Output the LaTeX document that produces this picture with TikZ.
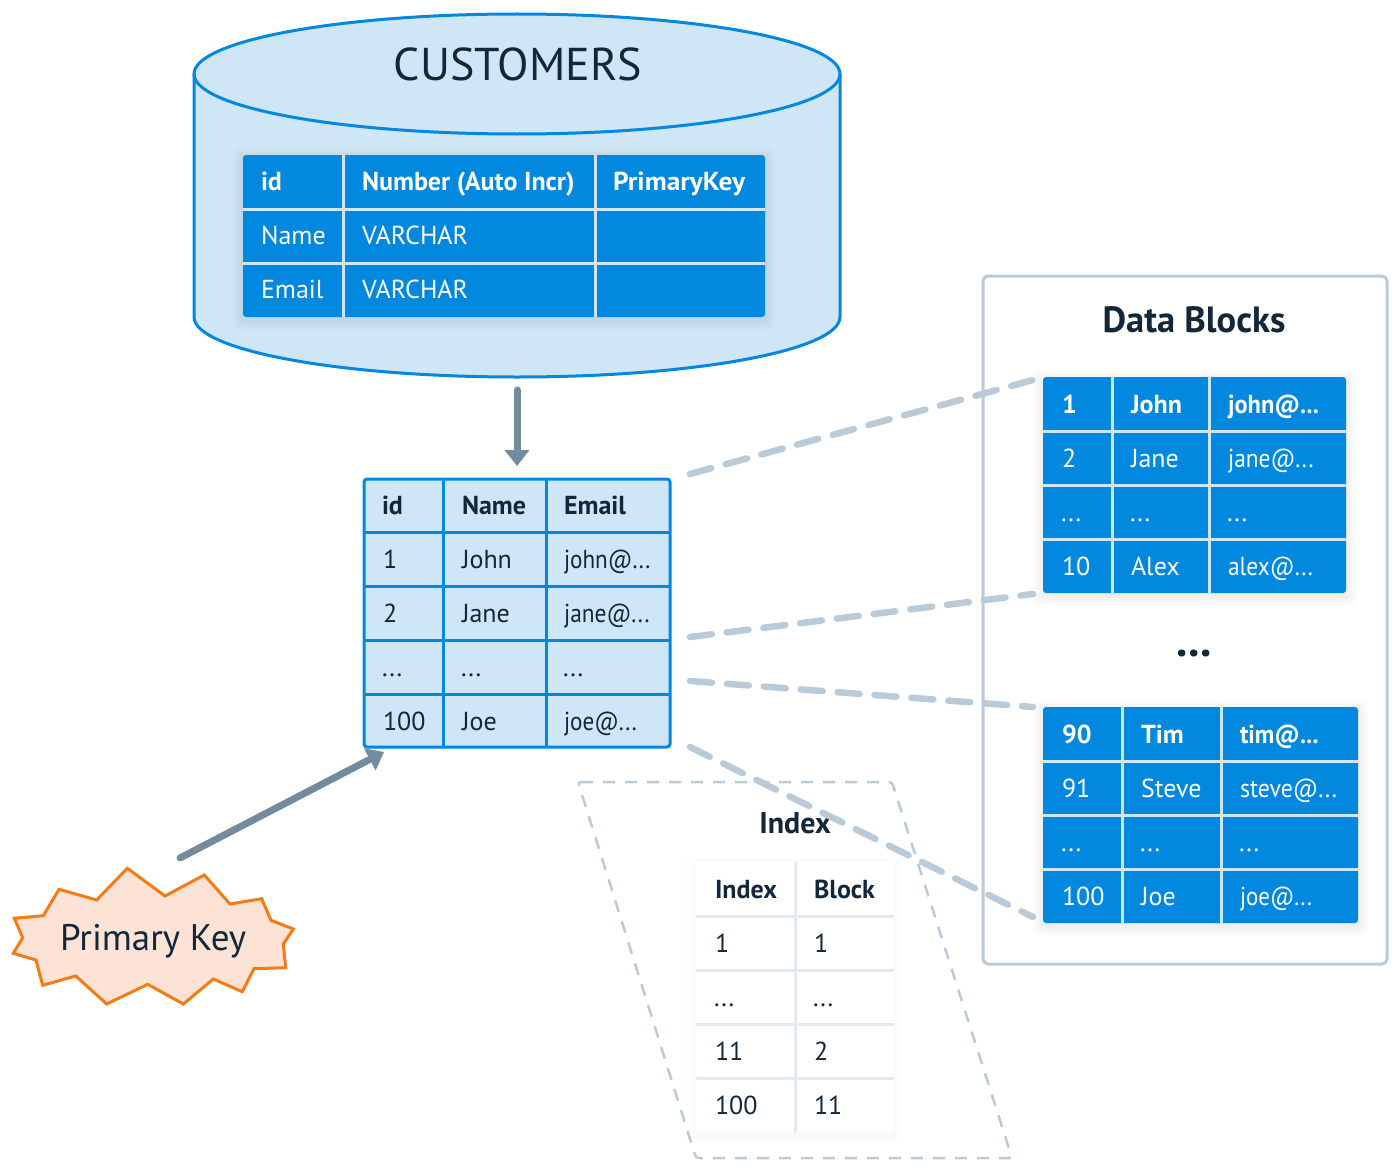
\documentclass[tikz,border=0pt]{standalone}
\usepackage{fontspec}
\setmainfont{PT Sans}
\usetikzlibrary{arrows.meta}
\definecolor{blueA}{HTML}{0288DF}
\definecolor{paleA}{HTML}{CFE6F6}
\definecolor{inkA}{HTML}{12273A}
\definecolor{greyA}{HTML}{748A9D}
\definecolor{dashA}{HTML}{B9CBD9}
\definecolor{lineA}{HTML}{E2E9F0}
\definecolor{orangeA}{HTML}{F57C14}
\definecolor{peachA}{HTML}{FDE3D5}
\newcommand{\fs}[1]{\fontsize{#1pt}{#1pt}\selectfont}
\newcommand{\nar}[2]{\scalebox{#1}[1]{#2}}
\tikzset{
  x=1pt,y=-1pt,
  celltxt/.style={anchor=base west,inner sep=0pt,outer sep=0pt,font=\fs{26}},
  cellbold/.style={celltxt,font=\fs{26}\bfseries},
  onblue/.style={text=white},
  onpale/.style={text=inkA},
  title/.style={anchor=base,inner sep=0pt,text=inkA},
  sep/.style={line width=3pt},
  flow/.style={draw=greyA,line width=7pt,line cap=round,-{Triangle[length=16pt,width=24pt]}},
  link/.style={draw=dashA,line width=6.5pt,line cap=round,dash pattern=on 22pt off 15pt},
}
% soft shadow around a rectangle
\newcommand{\softshadow}[5]{%
  \foreach \g in {10,8,6,4,2}{
    \fill[black,opacity=#5,rounded corners=4pt] (#1-\g,#2-\g+3) rectangle (#3+\g,#4+\g+3);
  }}
\begin{document}
\begin{tikzpicture}
\useasboundingbox[fill=white] (0,0) rectangle (1400,1172);

% --- cylinder
\path[fill=paleA,draw=blueA,line width=3pt]
  (194,74) -- (194,317) arc[start angle=180,end angle=360,x radius=323,y radius=-60]
  -- (840,74) arc[start angle=0,end angle=180,x radius=323,y radius=-60] -- cycle;
\draw[blueA,line width=3pt] (194,74) arc[start angle=180,end angle=360,x radius=323,y radius=-60];
\node[title,font=\fs{46}] (custTitle) at (518,81) {CUSTOMERS};

% --- schema table
\softshadow{243}{155}{765}{317}{0.012}
\fill[blueA,rounded corners=3pt] (243,155) rectangle (765,317);
\draw[paleA,sep] (343.5,155)--(343.5,317) (595,155)--(595,317) (243,209)--(765,209) (243,263)--(765,263);
\node[cellbold,onblue] (s11) at (261,190) {id};
\node[cellbold,onblue] (s12) at (362,190) {Number (Auto Incr)};
\node[cellbold,onblue] (s13) at (613,190) {\nar{1.05}{PrimaryKey}};
\node[celltxt,onblue] (s21) at (261,244) {Name};
\node[celltxt,onblue] (s22) at (362,244) {VARCHAR};
\node[celltxt,onblue] (s31) at (261,298) {Email};
\node[celltxt,onblue] (s32) at (362,298) {VARCHAR};

% --- data table
\draw[fill=paleA,draw=blueA,line width=3pt,rounded corners=3pt] (364,479) rectangle (670,747);
\draw[blueA,line width=3pt] (443,479)--(443,747) (546,479)--(546,747)
  (364,532.5)--(670,532.5) (364,586.5)--(670,586.5) (364,640.5)--(670,640.5) (364,694)--(670,694);
\coordinate (dataTop) at (517,466);
\coordinate (dataCorner) at (384,752);
\node[cellbold,onpale] (d11) at (382,514) {id};
\node[cellbold,onpale] (d12) at (462,514) {Name};
\node[cellbold,onpale] (d13) at (564,514) {Email};
\node[celltxt,onpale] (d21) at (383,568) {1};
\node[celltxt,onpale] (d22) at (462,568) {John};
\node[celltxt,onpale] (d23) at (564,568) {\nar{.89}{john@...}};
\node[celltxt,onpale] (d31) at (383,622) {2};
\node[celltxt,onpale] (d32) at (462,622) {Jane};
\node[celltxt,onpale] (d33) at (564,622) {\nar{.9}{jane@...}};
\node[celltxt,onpale] (d41) at (382,676) {...};
\node[celltxt,onpale] (d42) at (461,676) {...};
\node[celltxt,onpale] (d43) at (563,676) {...};
\node[celltxt,onpale] (d51) at (383,730) {100};
\node[celltxt,onpale] (d52) at (462,730) {Joe};
\node[celltxt,onpale] (d53) at (564,730) {\nar{.89}{joe@...}};

% --- data blocks frame
\draw[dashA,line width=3pt,rounded corners=5pt] (983,276) rectangle (1387,964);
\node[title,font=\fs{36.5}\bfseries] (dbTitle) at (1194,332) {Data Blocks};
\node[title,font=\fs{46}\bfseries] (dbDots) at (1194,656) {...};

% --- block 1
\softshadow{1043}{377}{1346}{593}{0.012}
\fill[blueA,rounded corners=3pt] (1043,377) rectangle (1346,593);
\draw[paleA,sep] (1112,377)--(1112,593) (1209.5,377)--(1209.5,593)
  (1043,431)--(1346,431) (1043,485)--(1346,485) (1043,539)--(1346,539);
\node[cellbold,onblue] (a11) at (1062,413) {1};
\node[cellbold,onblue] (a12) at (1131,413) {John};
\node[cellbold,onblue] (a13) at (1228,413) {\nar{.94}{john@...}};
\node[celltxt,onblue] (a21) at (1062,467) {2};
\node[celltxt,onblue] (a22) at (1131,467) {Jane};
\node[celltxt,onblue] (a23) at (1228,467) {\nar{.9}{jane@...}};
\node[celltxt,onblue] (a31) at (1061,521) {...};
\node[celltxt,onblue] (a32) at (1130,521) {...};
\node[celltxt,onblue] (a33) at (1227,521) {...};
\node[celltxt,onblue] (a41) at (1062,575) {10};
\node[celltxt,onblue] (a42) at (1131,575) {Alex};
\node[celltxt,onblue] (a43) at (1228,575) {\nar{.9}{alex@...}};

% --- block 2
\softshadow{1043}{707}{1358}{923}{0.012}
\fill[blueA,rounded corners=3pt] (1043,707) rectangle (1358,923);
\draw[paleA,sep] (1122,707)--(1122,923) (1221,707)--(1221,923)
  (1043,761)--(1358,761) (1043,815)--(1358,815) (1043,869)--(1358,869);
\node[cellbold,onblue] (b11) at (1062,743) {90};
\node[cellbold,onblue] (b12) at (1141,743) {Tim};
\node[cellbold,onblue] (b13) at (1240,743) {\nar{.93}{tim@...}};
\node[celltxt,onblue] (b21) at (1062,797) {91};
\node[celltxt,onblue] (b22) at (1141,797) {Steve};
\node[celltxt,onblue] (b23) at (1240,797) {\nar{.92}{steve@...}};
\node[celltxt,onblue] (b31) at (1061,851) {...};
\node[celltxt,onblue] (b32) at (1140,851) {...};
\node[celltxt,onblue] (b33) at (1239,851) {...};
\node[celltxt,onblue] (b41) at (1062,905) {100};
\node[celltxt,onblue] (b42) at (1141,905) {Joe};
\node[celltxt,onblue] (b43) at (1240,905) {\nar{.88}{joe@...}};

% --- index parallelogram
\draw[dashA,line width=2.5pt,dash pattern=on 12pt off 10pt,rounded corners=3pt]
  (578,782) -- (892,782) -- (1012,1158) -- (696,1158) -- cycle;
\node[title,font=\fs{30}\bfseries] (ixTitle) at (795,833) {Index};
\softshadow{696}{862}{894}{1132}{0.004}
\fill[white] (696,862) rectangle (894,1132);
\draw[lineA,sep] (795,862)--(795,1132) (696,916)--(894,916) (696,970)--(894,970) (696,1024)--(894,1024) (696,1078)--(894,1078);
\node[cellbold,onpale] (i11) at (715,898) {Index};
\node[cellbold,onpale] (i12) at (814,898) {Block};
\node[celltxt,onpale] (i21) at (715,952) {1};
\node[celltxt,onpale] (i22) at (814,952) {1};
\node[celltxt,onpale] (i31) at (714,1006) {...};
\node[celltxt,onpale] (i32) at (813,1006) {...};
\node[celltxt,onpale] (i41) at (715,1060) {11};
\node[celltxt,onpale] (i42) at (814,1060) {2};
\node[celltxt,onpale] (i51) at (715,1114) {100};
\node[celltxt,onpale] (i52) at (814,1114) {11};

% --- dashed links
\coordinate (m1) at (690,474); \coordinate (t1) at (1033,380);
\coordinate (m2) at (690,637); \coordinate (t2) at (1033,594);
\coordinate (m3) at (690,681); \coordinate (t3) at (1033,707);
\coordinate (m4) at (690,747); \coordinate (t4) at (1033,917);
\draw[link] (m1) -- (t1);
\draw[link] (m2) -- (t2);
\draw[link] (m3) -- (t3);
\draw[link] (m4) -- (t4);

% --- burst
\path[fill=peachA,draw=orangeA,line width=3pt,line join=miter]
 (127.3,868.3)--(165,896)--(204.3,875)--(230,904)--(261.7,898.7)--(271,920.3)--(293.3,929)--(283.3,944)--(285.7,967.7)--(254,968.7)--(242.3,991.7)--(213.3,979)--(183.3,1004)--(147.7,984.3)--(106.7,1004)--(75.7,976)--(42.7,985.3)--(36,960)--(13.3,953.3)--(22.7,937.7)--(14.3,918.3)--(43.3,915.7)--(59,889.3)--(96.7,900)--cycle;
\node[title,font=\fs{37}] (pk) at (153,950) {Primary Key};
\coordinate (pkOut) at (180,858);

% --- arrows
\coordinate (cylBottom) at (517,390);
\draw[flow] (cylBottom) -- (dataTop);
\draw[flow] (pkOut) -- (dataCorner);
\end{tikzpicture}
\end{document}
